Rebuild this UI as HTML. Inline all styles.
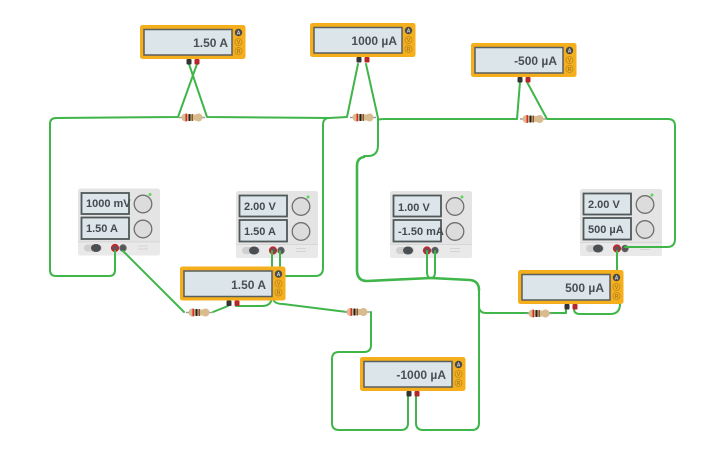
<!DOCTYPE html>
<html><head><meta charset="utf-8"><style>
html,body{margin:0;padding:0;background:#fff;width:725px;height:453px;overflow:hidden}
svg{display:block}
text{font-family:"Liberation Sans",sans-serif}
.m{font-size:12px;font-weight:bold;fill:#4a4f52;text-anchor:end}
.p{font-size:11px;font-weight:bold;fill:#444a4d}
.s{font-size:5px;font-weight:bold;text-anchor:middle}
.w{fill:none;stroke:#3fb54a;stroke-width:2;stroke-linejoin:round;stroke-linecap:round}
.t{stroke-width:2.6}
</style></head><body>
<svg width="725" height="453" viewBox="0 0 725 453" xmlns="http://www.w3.org/2000/svg">
<defs>
<g id="meter">
<rect x="0" y="0" width="105.500" height="34" rx="2.500" fill="#f5ae1c"/>
<rect x="4" y="4.500" width="88" height="25.500" fill="#dce5ea" stroke="#5a5f60" stroke-width="1.500"/>
<circle cx="98.500" cy="7.500" r="3.700" fill="#4a4a48"/>
<circle cx="98.500" cy="17" r="3.500" fill="none" stroke="#b88a25" stroke-width="0.800"/>
<circle cx="98.500" cy="26" r="3.500" fill="none" stroke="#b88a25" stroke-width="0.800"/>
<text class="s" x="98.500" y="9.300" fill="#ddd">A</text>
<text class="s" x="98.500" y="18.800" fill="#a87c20">V</text>
<text class="s" x="98.500" y="27.800" fill="#a87c20">R</text>
<rect x="46.500" y="34" width="5" height="5.500" rx="1" fill="#333"/>
<rect x="54.500" y="34" width="5" height="5.500" rx="1" fill="#b5262a"/>
</g>
<g id="res">
<rect x="-13" y="-0.700" width="26" height="1.400" fill="#999"/>
<rect x="-9" y="-3" width="18" height="6" rx="3" fill="#d8bb8e"/>
<circle cx="-6.500" cy="0" r="4" fill="#d8bb8e"/>
<circle cx="6.500" cy="0" r="4" fill="#d8bb8e"/>
<rect x="-6.500" y="-3.800" width="1.600" height="7.600" fill="#d9281f"/>
<rect x="-3.500" y="-3.500" width="2" height="7" fill="#222"/>
<rect x="-0.500" y="-3.500" width="1.500" height="7" fill="#8a5a2a"/>
</g>
<g id="ps">
<rect x="0" y="0" width="82" height="67" rx="2.500" fill="#e4e4e4"/>
<rect x="0" y="53" width="82" height="14" rx="2" fill="#e9e9e9"/>
<rect x="0" y="53" width="82" height="0.800" fill="#d2d2d2"/>
<rect x="3.500" y="4.500" width="47.500" height="21" fill="#dce6ea" stroke="#50585a" stroke-width="1.800"/>
<rect x="3.500" y="29" width="47.500" height="21.500" fill="#dce6ea" stroke="#50585a" stroke-width="1.800"/>
<circle cx="65" cy="15.500" r="8.800" fill="#dcdcdc" stroke="#6f6f6f" stroke-width="1.300"/>
<circle cx="65" cy="40.500" r="8.800" fill="#dcdcdc" stroke="#6f6f6f" stroke-width="1.300"/>
<circle cx="72" cy="6" r="1.500" fill="#5bd85b"/>
<rect x="6" y="56" width="18" height="7" rx="3.500" fill="#cfcfcf"/>
<ellipse cx="18" cy="59.500" rx="5" ry="4" fill="#4b4f52"/>
<circle cx="37" cy="59.500" r="3.200" fill="#55585a" stroke="#c0272d" stroke-width="1.800"/>
<circle cx="45" cy="59.500" r="3.200" fill="#55585a" stroke="#666" stroke-width="1"/>
<rect x="60" y="57" width="10" height="1" fill="#d4d4d4"/>
<rect x="60" y="60" width="10" height="1" fill="#d4d4d4"/>
</g>
</defs>

<use href="#ps" x="78" y="188.500"/>
<use href="#ps" x="236" y="191"/>
<use href="#ps" x="390" y="191"/>
<use href="#ps" x="580" y="189"/>
<text class="p" x="86" y="207">1000 mV</text>
<text class="p" x="86" y="232">1.50 A</text>
<text class="p" x="244" y="210">2.00 V</text>
<text class="p" x="244" y="235">1.50 A</text>
<text class="p" x="398" y="211">1.00 V</text>
<text class="p" x="398" y="235">-1.50 mA</text>
<text class="p" x="588" y="208">2.00 V</text>
<text class="p" x="588" y="233">500 µA</text>

<path class="w" d="M197 64L178 117L56 118Q50 118 50 124V270Q50 276 56 276H109Q115 276 115 270V251"/>
<path class="w" d="M189 64L207 117L329 118"/>
<path class="w" d="M358 64L347 117L329 118Q323 118 323 125V268Q323 276 315 276H285"/>
<path class="w" d="M366 64L378 118V145Q378 156 368 156H364"/>
<path class="w t" d="M364 157Q357 158 357 166V270Q357 281 367 281L431 278L470 280Q479 281 479 290"/>
<path class="w" d="M378 120Q379 119 386 119H517L520 82"/>
<path class="w" d="M527 82L547 119H668Q675 119 675 126V239Q675 247 667 247H625"/>
<path class="w" d="M427 251V272Q427 278 431 278Q435 278 435 272V251"/>
<path class="w" d="M479 288V306Q479 313 486 313H528"/>
<path class="w" d="M479 305V423Q479 430 472 430H423Q416 430 416 423V396"/>
<path class="w" d="M408 396V423Q408 430 401 430H339Q332 430 332 423V359Q332 352 339 352H364Q371 352 371 345V312"/>
<path class="w" d="M123 251L184 312"/>
<path class="w" d="M213 312L228 306V304"/>
<path class="w" d="M272 251V296Q272 306 262 306H236V304"/>
<path class="w" d="M280 251V276"/>
<path class="w" d="M274 301Q276 304 283 304L347 312"/>
<path class="w" d="M550 313H566V305"/>
<path class="w" d="M574 305V309Q574 314 580 314H610Q620 314 620 304"/>
<path class="w" d="M617 251V272"/>

<use href="#res" x="192" y="117.500"/>
<use href="#res" x="363" y="117.500"/>
<use href="#res" x="533" y="119"/>
<use href="#res" x="199" y="312.500"/>
<use href="#res" x="357" y="312"/>
<use href="#res" x="539" y="313.500"/>

<use href="#meter" x="140" y="25"/>
<use href="#meter" x="310" y="23"/>
<use href="#meter" x="471" y="43"/>
<use href="#meter" x="180" y="266.500"/>
<use href="#meter" x="518" y="270"/>
<use href="#meter" x="360" y="357"/>
<text class="m" x="228" y="47">1.50 A</text>
<text class="m" x="397" y="45">1000 µA</text>
<text class="m" x="557" y="65">-500 µA</text>
<text class="m" x="266" y="289">1.50 A</text>
<text class="m" x="604" y="292">500 µA</text>
<text class="m" x="446" y="379">-1000 µA</text>
</svg>
</body></html>
